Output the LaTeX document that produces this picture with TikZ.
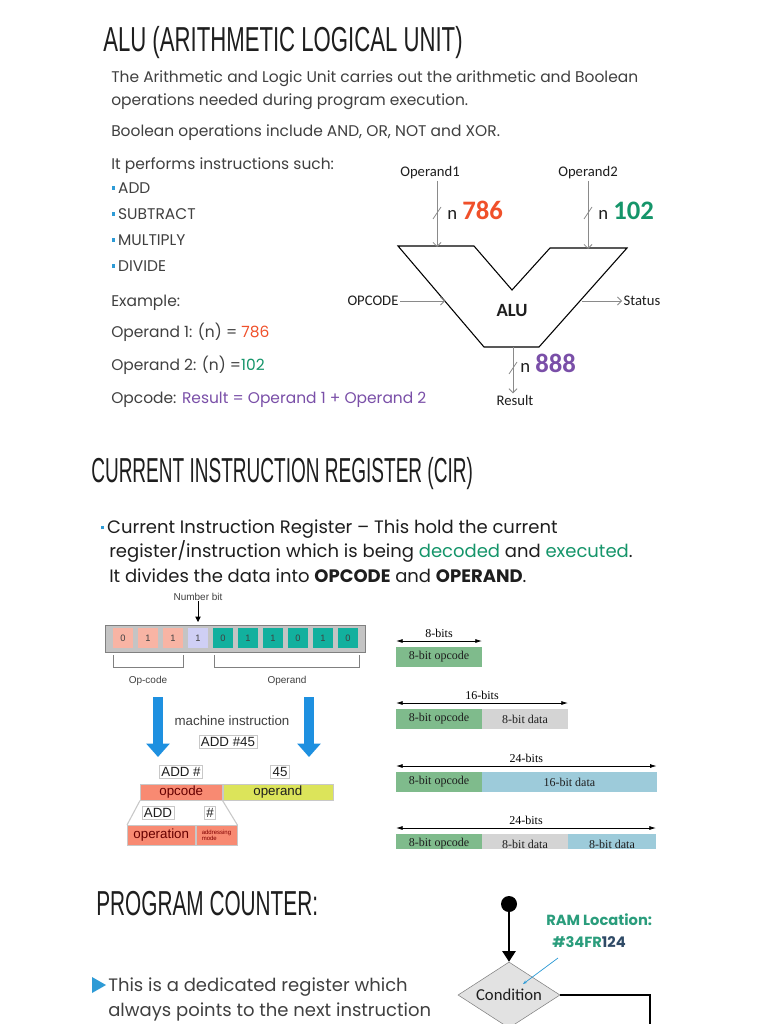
\documentclass[tikz,border=0pt]{standalone}
\usepackage{fontspec}
\setmainfont{Poppins}
\newfontfamily\ttlfont[FakeStretch=0.6]{Liberation Sans}
\newfontfamily\calfont{Carlito}
\newfontfamily\arifont{Liberation Sans}
\newfontfamily\timfont{Liberation Serif}
\usetikzlibrary{arrows.meta,positioning,shapes.geometric}
\definecolor{ink}{HTML}{1E1E1E}
\definecolor{body}{HTML}{404040}
\definecolor{bul}{HTML}{2E9BD6}
\definecolor{red1}{HTML}{F0502A}
\definecolor{grn1}{HTML}{15956A}
\definecolor{pur1}{HTML}{7A4FA8}
\definecolor{wire}{HTML}{8A8A8A}
\definecolor{opc}{HTML}{F8B4A4}
\definecolor{nbit}{HTML}{CFCFF5}
\definecolor{opd}{HTML}{12B09E}
\definecolor{regbg}{HTML}{C4C4C4}
\definecolor{salm}{HTML}{F88A72}
\definecolor{lime}{HTML}{DCE45A}
\definecolor{bigar}{HTML}{1E90E0}
\definecolor{gop}{HTML}{7FBB8C}
\definecolor{gdat}{HTML}{D4D4D4}
\definecolor{bdat}{HTML}{9DCBDA}
\definecolor{ramg}{HTML}{2A9D7C}
\definecolor{ramd}{HTML}{2F4A66}
\definecolor{dia}{HTML}{E2E2E2}
\definecolor{lnk}{HTML}{C8C8C8}
\newcommand{\fsz}[1]{\fontsize{#1}{#1}\selectfont}
\newcommand{\sqb}{\textcolor{bul}{\rule[0.22em]{2.4pt}{2.4pt}}\hspace{2pt}}
\tikzset{
  ttl/.style={anchor=base west,inner sep=0pt,font=\ttlfont\fsz{26},text=ink},
  txt/.style={anchor=base west,inner sep=0pt,font=\fsz{11.6},text=body},
  cirtxt/.style={txt,font=\fsz{13.5},text=ink},
  pctxt/.style={txt,font=\fsz{13.5}},
  lbl/.style={inner sep=1pt,font=\calfont\fsz{11},text=ink},
  nval/.style={anchor=base west,inner sep=0pt,font=\calfont\fsz{14},text=ink},
  ar/.style={-{Straight Barb[length=3pt,width=6pt]},draw=wire,line width=0.6pt},
  tick/.style={draw=wire,line width=0.6pt},
  cell/.style={minimum size=15pt,inner sep=0pt,font=\arifont\fsz{7},text=body},
  ari/.style={inner sep=0pt,font=\arifont\fsz{10},text=body},
  small/.style={inner sep=0pt,font=\arifont\fsz{7.5},text=body},
  wbox/.style={draw=lnk,fill=white,inner sep=1.5pt,font=\arifont\fsz{10},text=ink},
  bar/.style={draw=lnk,inner sep=0pt,minimum height=12pt,font=\arifont\fsz{10}},
  bigarrow/.style={-{Triangle[length=10pt,width=17pt]},line width=7pt,draw=bigar},
  bb/.style={minimum height=15pt,inner sep=0pt,outer sep=0pt,font=\timfont\fsz{9},text=ink},
  dim/.style={{Latex[length=5pt,width=3pt]}-{Latex[length=5pt,width=3pt]},line width=0.6pt},
  flow/.style={draw=black,line width=1.2pt},
}

\begin{document}
\begin{tikzpicture}[x=0.75pt,y=-0.75pt]
\clip (0,0) rectangle (768,1024);
\fill[white] (0,0) rectangle (768,1024);

% ---- ALU ----
\node[ttl] (t1) at (103,52) {\scalebox{1.065}[1]{ALU (ARITHMETIC LOGICAL UNIT)}};
\node[txt] (p1) at (111,83) {The Arithmetic and Logic Unit carries out the arithmetic and Boolean};
\node[txt] (p2) at (111,105) {operations needed during program execution.};
\node[txt] (p3) at (111,137) {Boolean operations include AND, OR, NOT and XOR.};
\node[txt] (p4) at (111,169) {It performs instructions such:};
\node[txt] (i1) at (112,193) {\sqb ADD};
\node[txt] (i2) at (112,219) {\sqb SUBTRACT};
\node[txt] (i3) at (112,245) {\sqb MULTIPLY};
\node[txt] (i4) at (112,271) {\sqb DIVIDE};
\node[txt] (ex) at (111,306) {Example:};
\node[txt] (ex1) at (111,337) {Operand 1: (n) = \textcolor{red1}{786}};
\node[txt] (ex2) at (111,370) {Operand 2: (n) =\textcolor{grn1}{102}};
\node[txt] (ex3) at (111,403) {Opcode: \textcolor{pur1}{Result = Operand 1 + Operand 2}};

\draw[line width=0.8pt] (398,246) -- (474,246) -- (512,290) -- (550,248)
  -- (627,248) -- (539,347) -- (484,347) -- cycle;
\node[lbl,font=\calfont\bfseries\fsz{14}] (alu) at (512,311) {ALU};
\node[lbl] (op1) at (430,173) {Operand1};
\node[lbl] (op2) at (588,173) {Operand2};
\coordinate (in1) at (437,247);
\coordinate (in2) at (588,249);
\draw[ar] (op1.south -| in1) -- (in1);
\draw[ar] (op2.south -| in2) -- (in2);
\draw[tick] (437,213) ++(-4,6) -- ++(8,-12);
\draw[tick] (588,213) ++(-4,6) -- ++(8,-12);
\node[nval] (v1) at (447,219) {n\hspace{4pt}\textcolor{red1}{\fsz{20}\bfseries 786}};
\node[nval] (v2) at (598,219) {n\hspace{4pt}\textcolor{grn1}{\fsz{20}\bfseries 102}};
\node[lbl,anchor=east] (opc) at (400,301) {OPCODE};
\coordinate (inop) at (445,301);
\draw[ar] (opc) -- (inop);
\node[lbl,anchor=west] (st) at (622,301) {Status};
\coordinate (outst) at (582,301);
\draw[ar] (outst) -- (st);
\coordinate (outr) at (513,347);
\node[lbl] (res) at (515,400) {Result};
\draw[ar] (outr) -- (res.north -| outr);
\draw[tick] (513,368) ++(-4,6) -- ++(8,-12);
\node[nval] (v3) at (520,372) {n\hspace{4pt}\textcolor{pur1}{\fsz{20}\bfseries 888}};

% ---- CIR ----
\node[ttl] (t2) at (91,482) {\scalebox{0.915}[1]{CURRENT INSTRUCTION REGISTER (CIR)}};
\node[cirtxt] (c1) at (101,533) {\sqb Current Instruction Register -- This hold the current};
\node[cirtxt] (c2) at (109,557) {register/instruction which is being \textcolor{grn1}{decoded} and \textcolor{grn1}{executed}.};
\node[cirtxt] (c3) at (109,582) {It divides the data into \textbf{OPCODE} and \textbf{OPERAND}.};

\node[small] (nb) at (198,597) {Number bit};
\coordinate (nbt) at (198,622);
\draw[-{Triangle[length=4pt,width=4pt]},line width=0.6pt] (nb) -- (nbt);
\node[draw=gray,fill=regbg,minimum width=195pt,minimum height=20pt] (reg) at (235,638.5) {};
\foreach \b/\col [count=\i] in {0/opc,1/opc,1/opc,1/nbit,0/opd,1/opd,1/opd,0/opd,1/opd,0/opd}
  \node[cell,fill=\col] (b\i) at ({123+25*(\i-1)},638) {\b};
\draw[gray] (113,655) |- (183,667) -- (183,655);
\draw[gray] (214,655) |- (359,667) -- (359,655);
\node[small] (opl) at (148,681) {Op-code};
\node[small] (odl) at (287,681) {Operand};

\coordinate (ba1) at (158,697);
\coordinate (bb1) at (158,757);
\coordinate (ba2) at (309,697);
\coordinate (bb2) at (309,757);
\draw[bigarrow] (ba1) -- (bb1);
\draw[bigarrow] (ba2) -- (bb2);
\node[ari] (mi) at (232,721) {machine instruction};
\node[wbox] (add45) at (228,742) {ADD \#45};
\node[wbox] (addh) at (181,772) {ADD \#};
\node[wbox] (n45) at (280,772) {45};
\node[bar,fill=salm,text=red!40!black,minimum width=61.5pt,anchor=north west] (opcb) at (140,784) {opcode};
\node[bar,fill=lime,text=ink,minimum width=82.5pt,right=0pt of opcb] (opdb) {operand};
\node[bar,fill=salm,text=red!40!black,minimum width=51pt,minimum height=15pt,anchor=north west] (oper) at (127,825) {operation};
\node[bar,fill=salm,text=red!50!black,minimum width=31pt,minimum height=15pt,align=left,
  font=\arifont\fsz{4.5},right=0pt of oper] (addr) {addressing\\mode};
\draw[lnk,line width=0.8pt] (opcb.south west) -- (oper.north west);
\draw[lnk,line width=0.8pt] (opcb.south east) -- (addr.north east);
\node[wbox] (addw) at (158,813) {ADD};
\node[wbox] (hash) at (210,813) {\#};

% instruction widths
\node[bb,fill=gop,minimum width=64.5pt,anchor=north west] (r1a) at (396,647) {8-bit opcode};
\draw[dim] ([yshift=4.5pt]r1a.north west) -- ([yshift=4.5pt]r1a.north east)
  node[midway,above=-1pt,font=\timfont\fsz{9}] {8-bits};
\node[bb,fill=gop,minimum width=64.5pt,anchor=north west] (r2a) at (396,709) {8-bit opcode};
\node[bb,fill=gdat,minimum width=64.5pt,right=0pt of r2a] (r2b) {8-bit data};
\draw[dim] ([yshift=4.5pt]r2a.north west) -- ([yshift=4.5pt]r2b.north east)
  node[midway,above=-1pt,font=\timfont\fsz{9}] {16-bits};
\node[bb,fill=gop,minimum width=64.5pt,anchor=north west] (r3a) at (396,772) {8-bit opcode};
\node[bb,fill=bdat,minimum width=131pt,right=0pt of r3a] (r3b) {16-bit data};
\draw[dim] ([yshift=4.5pt]r3a.north west) -- ([yshift=4.5pt]r3b.north east)
  node[midway,above=-1pt,font=\timfont\fsz{9}] {24-bits};
\begin{scope}
\clip (380,800) rectangle (700,848);
\node[bb,fill=gop,minimum width=64.5pt,anchor=north west] (r4a) at (396,834) {8-bit opcode};
\node[bb,fill=gdat,minimum width=64.5pt,right=0pt of r4a] (r4b) {8-bit data};
\node[bb,fill=bdat,minimum width=66pt,right=0pt of r4b] (r4c) {8-bit data};
\draw[dim] ([yshift=4.5pt]r4a.north west) -- ([yshift=4.5pt]r4c.north east)
  node[midway,above=-1pt,font=\timfont\fsz{9}] {24-bits};
\end{scope}

% ---- PC ----
\node[ttl] (t3) at (96,915) {PROGRAM COUNTER:};
\fill[bul] (92,977) -- (106,985) -- (92,993) -- cycle;
\node[pctxt] (q1) at (108,991) {This is a dedicated register which};
\node[pctxt] (q2) at (108,1016) {always points to the next instruction};

\node[circle,fill=black,minimum size=12pt,inner sep=0pt] (dot) at (509,904) {};
\node[diamond,draw=gray,fill=dia,aspect=1.55,minimum width=76.5pt,minimum height=49.5pt,
  inner sep=0pt,font=\calfont\fsz{12.5},text=ink] (cond) at (509,995) {Condition};
\draw[flow,-{Triangle[length=8pt,width=10pt]}] (dot) -- (cond.north);
\coordinate (rt) at (650,1040);
\draw[flow] (cond.east) -| (rt);
\node[anchor=base west,inner sep=0pt,font=\bfseries\fsz{11},text=ramg] (ram1) at (546,925) {RAM Location:};
\node[anchor=base west,inner sep=0pt,font=\bfseries\fsz{11},text=ramg] (ram2) at (552,947) {\#34FR\textcolor{ramd}{124}};
\coordinate (rp1) at (558,958);
\coordinate (rp2) at (523,984);
\draw[-{Stealth[length=3pt]},draw=bul,fill=bul,line width=0.5pt] (rp1) -- (rp2);
\end{tikzpicture}
\end{document}
